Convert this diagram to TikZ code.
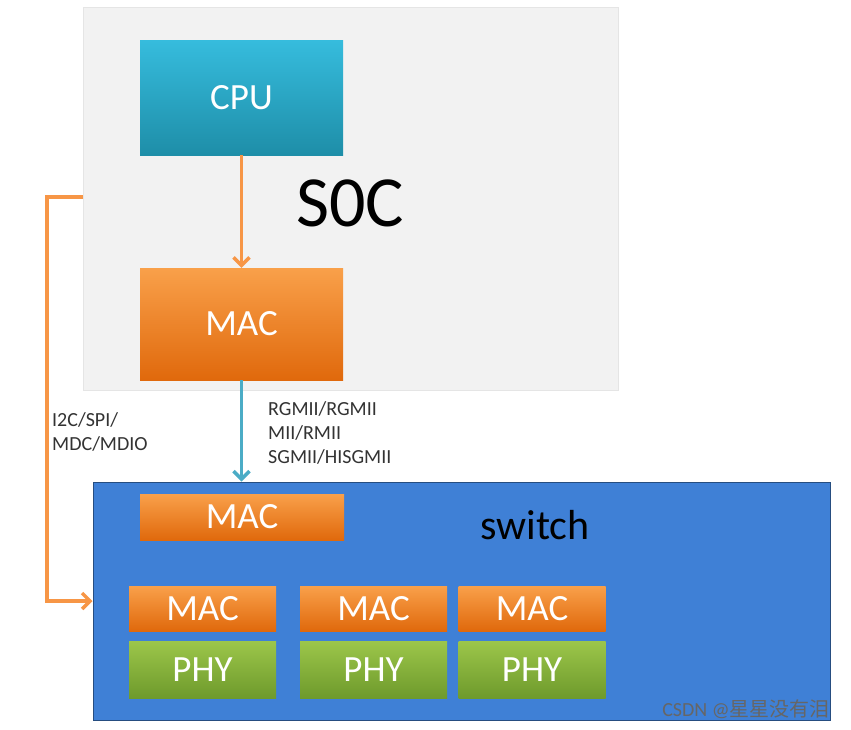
\documentclass[tikz,border=0pt]{standalone}
\usepackage{fontspec}
\setmainfont{Carlito}
\newfontfamily\cjk{Noto Sans CJK SC}
\usetikzlibrary{arrows.meta}
\definecolor{socgray}{HTML}{F2F2F2}
\definecolor{cputop}{HTML}{36BCDD}
\definecolor{cpubot}{HTML}{1E8EA8}
\definecolor{mactop}{HTML}{F9A04A}
\definecolor{macbot}{HTML}{E0690C}
\definecolor{phytop}{HTML}{9CC64A}
\definecolor{phybot}{HTML}{6E9A2C}
\definecolor{swblue}{HTML}{3F80D6}
\definecolor{arrorange}{HTML}{F79646}
\definecolor{arrblue}{HTML}{4BACC6}
\begin{document}
\begin{tikzpicture}[x=1pt,y=-1pt,
  blk/.style={draw=none,minimum height=#1,inner sep=0pt,text=white},
  cpu/.style={blk=115pt,minimum width=203pt,top color=cputop,bottom color=cpubot,font=\fontsize{37}{40}\selectfont},
  mac/.style={blk=#1,top color=mactop,bottom color=macbot,font=\fontsize{37}{40}\selectfont},
  phy/.style={blk=57pt,minimum width=147pt,top color=phytop,bottom color=phybot,font=\fontsize{37}{40}\selectfont},
  lbl/.style={font=\fontsize{20}{24}\selectfont,text=black!80,align=left,inner sep=0pt,anchor=north west},
  conn/.style={line width=3.5pt,-{Straight Barb[length=8pt,width=16pt]}}]
\useasboundingbox (0,0) rectangle (851,729);
\fill[white] (0,0) rectangle (851,729);
% SOC
\node[fill=socgray,draw=black!10,minimum width=535pt,minimum height=383pt,inner sep=0pt] (soc) at (350.5,198.5) {};
\node[cpu] (cpu) at (241.5,97.5) {CPU};
\node[mac=112pt,minimum width=203pt] (mac) at (241.5,324) {MAC};
\node[font=\fontsize{72}{76}\selectfont,inner sep=0pt] (soclbl) at (350,203) {S0C};
% switch
\node[fill=swblue,draw=swblue!60!black,line width=1pt,minimum width=737pt,minimum height=238pt,inner sep=0pt] (sw) at (461.5,601) {};
\node[font=\fontsize{42}{46}\selectfont,inner sep=0pt] (swlbl) at (535,525) {switch};
\node[mac=46pt,minimum width=204pt] (smac) at (242,517) {MAC};
\node[mac=45pt,minimum width=147pt] (m1) at (202.5,608.5) {MAC};
\node[mac=45pt,minimum width=147pt] (m2) at (373.5,608.5) {MAC};
\node[mac=45pt,minimum width=147pt] (m3) at (532,608.5) {MAC};
\node[phy] (p1) at (202.5,669.5) {PHY};
\node[phy] (p2) at (373.5,669.5) {PHY};
\node[phy] (p3) at (532,669.5) {PHY};
% connectors
\draw[conn,arrorange] (cpu) -- (mac);
\draw[conn,arrblue] (mac) -- (sw.north -| mac);
\coordinate (side) at (83,197);
\draw[conn,arrorange] (side) -- (47,197) |- (sw.west |- 0,601);
% labels
\node[lbl] (bus) at (268,401) {RGMII/RGMII\\MII/RMII\\SGMII/HISGMII};
\node[lbl] (mgmt) at (52,412) {I2C/SPI/\\MDC/MDIO};
\node[font=\fontsize{20}{22}\selectfont,text=black!60,inner sep=0pt] (wm) at (746,709) {CSDN @{\cjk 星星没有泪}};
\end{tikzpicture}
\end{document}
